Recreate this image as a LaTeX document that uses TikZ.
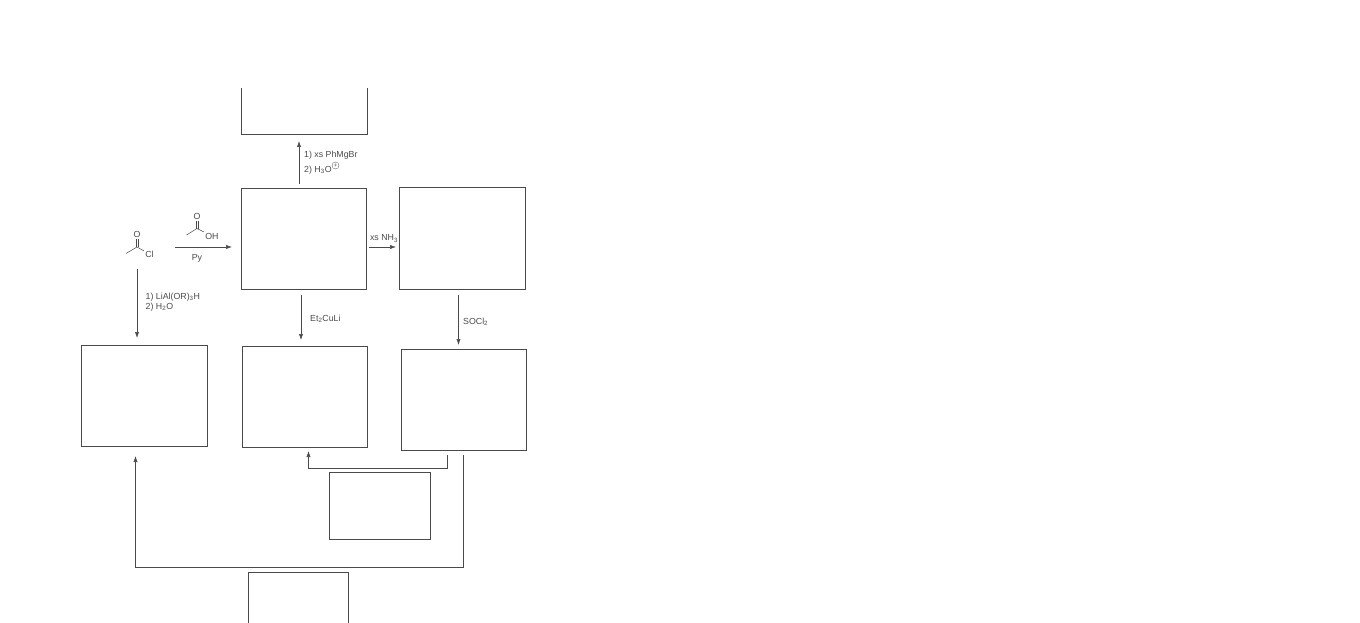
\documentclass[tikz,border=0pt]{standalone}
\usepackage{fontspec}
\setmainfont{Liberation Sans}
\usepackage{tikz}
\usetikzlibrary{positioning,calc,arrows.meta}
\definecolor{SchemeLine}{HTML}{4A4A4A}
\tikzset{
  answerbox/.style={draw=SchemeLine,line width=0.65pt,anchor=north west,inner sep=0pt,outer sep=0pt},
  reaction/.style={draw=SchemeLine,line width=0.6pt,-{Latex[length=6pt,width=4.2pt]}},
  bond/.style={draw=SchemeLine,line width=0.5pt,shorten >=1.5pt},
  reagent/.style={inner sep=0pt,text=SchemeLine,font=\fontsize{8.8}{10}\selectfont,align=left}
}

\begin{document}
\begin{tikzpicture}[x=1pt,y=-1pt]
        \useasboundingbox (0,0) rectangle (1360,623);

        % Answer boxes
        \node[answerbox,minimum width=125.5pt,minimum height=101.5pt] (boxAnhydride) at (241,188) {};
        \node[answerbox,minimum width=125.5pt,minimum height=102pt] (boxAmide) at (399.5,187.5) {};
        \node[answerbox,minimum width=125.5pt,minimum height=101pt] (boxAldehyde) at (81.5,345.5) {};
        \node[answerbox,minimum width=125pt,minimum height=101.5pt] (boxKetone) at (242.5,346) {};
        \node[answerbox,minimum width=125pt,minimum height=101.5pt] (boxNitrile) at (401.5,349) {};
        \node[answerbox,minimum width=100.5pt,minimum height=67pt] (boxLower) at (329.5,472.5) {};

        % Boxes cut off by the page
        \draw[draw=SchemeLine,line width=0.65pt] (241.5,88) -- (241.5,134.5) -- (367,134.5) -- (367,88);
        \draw[draw=SchemeLine,line width=0.65pt] (248,623) -- (248,572.5) -- (348.5,572.5) -- (348.5,623);

        % Acid chloride
        \coordinate (clC) at (137,247);
        \coordinate (clMe) at (126,253.5);
        \node[reagent] (clO) at (137,234) {O};
        \node[reagent] (clCl) at (149.5,254) {Cl};
        \draw[bond,shorten >=0pt] (clC) -- (clMe);
        \draw[bond] (clC) -- (clCl);
        \draw[bond] ([xshift=-1pt]clC) -- ([xshift=-1pt]clO.south);
        \draw[bond] ([xshift=1pt]clC) -- ([xshift=1pt]clO.south);

        % Acetic acid
        \coordinate (acC) at (197,228.5);
        \coordinate (acMe) at (186.5,235);
        \node[reagent] (acO) at (197,216.5) {O};
        \node[reagent] (acOH) at (212,236) {OH};
        \draw[bond,shorten >=0pt] (acC) -- (acMe);
        \draw[bond] (acC) -- (acOH);
        \draw[bond] ([xshift=-1pt]acC) -- ([xshift=-1pt]acO.south);
        \draw[bond] ([xshift=1pt]acC) -- ([xshift=1pt]acO.south);

        % Arrow ends
        \coordinate (pyA) at (175,247);
        \coordinate (pyB) at (232,247);
        \coordinate (liA) at (137,269);
        \coordinate (liB) at (137,338);
        \coordinate (phA) at (299,184);
        \coordinate (phB) at (299,141);
        \coordinate (nhA) at (369,247);
        \coordinate (nhB) at (396,247);
        \coordinate (etA) at (301,295);
        \coordinate (etB) at (301,340);
        \coordinate (soA) at (458.5,295);
        \coordinate (soB) at (458.5,345);
        \coordinate (lowA) at (447.5,455);
        \coordinate (lowB) at (308.5,451);
        \coordinate (bigA) at (463.5,455);
        \coordinate (bigB) at (135.5,456);

        % Arrows
        \draw[reaction] (pyA) -- (pyB);
        \draw[reaction] (liA) -- (liB);
        \draw[reaction] (phA) -- (phB);
        \draw[reaction] (nhA) -- (nhB);
        \draw[reaction] (etA) -- (etB);
        \draw[reaction] (soA) -- (soB);
        \draw[reaction] (lowA) -- (447.5,468) -- (308.5,468) -- (lowB);
        \draw[reaction] (bigA) -- (463.5,567.5) -- (135.5,567.5) -- (bigB);

        % Reagents
        \node[reagent] (pyLabel) at (197,258.5) {Py};
        \node[reagent,anchor=west] (liLabel) at (145.5,297.5) {1) LiAl(OR)\textsubscript{3}H};
        \node[reagent,anchor=west] (liLabelB) at (145.5,307.5) {2) H\textsubscript{2}O};
        \node[reagent,anchor=west] (phLabel) at (304,155.5) {1) xs PhMgBr};
        \node[reagent,anchor=west] (phLabelB) at (304,170.5) {2) H\textsubscript{3}O};
        \node[draw=SchemeLine,line width=0.3pt,circle,inner sep=0pt,minimum size=7pt,text=SchemeLine,font=\fontsize{6}{6}\selectfont] (phCharge) at (335.5,165.5) {+};
        \node[reagent] (nhLabel) at (384,238.5) {xs NH\textsubscript{3}};
        \node[reagent,anchor=west] (etLabel) at (310,318.5) {Et\textsubscript{2}CuLi};
        \node[reagent,anchor=west] (soLabel) at (463,321.5) {SOCl\textsubscript{2}};
      \end{tikzpicture}
\end{document}
